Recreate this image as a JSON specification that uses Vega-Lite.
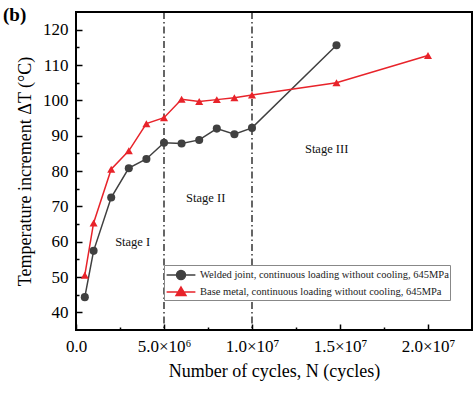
{
  "$schema": "https://vega.github.io/schema/vega-lite/v6.json",
  "width": 396,
  "height": 318,
  "autosize": {"type": "none"},
  "padding": {"left": 76, "top": 12, "right": 2, "bottom": 64},
  "background": "white",
  "title": {"text": "(b)", "anchor": "start", "frame": "group", "orient": "top", "offset": 0, "dx": -73, "dy": 29, "baseline": "alphabetic", "fontSize": 19, "fontWeight": "bold", "font": "Liberation Serif", "color": "black"},
  "config": {
    "font": "Liberation Serif",
    "view": {"stroke": "black", "strokeWidth": 2},
    "axis": {"domain": false, "grid": false, "labelFont": "Liberation Serif", "titleFont": "Liberation Serif", "labelColor": "black", "titleColor": "black", "tickColor": "black", "tickWidth": 1.5, "labelFontSize": 17, "titleFontSize": 18, "titleFontWeight": "normal"}
  },
  "datasets": {
    "curves": [
      {"series": "Welded joint, continuous loading without cooling, 645MPa", "marker": "circle", "N": 500000, "dT": 44.3},
      {"series": "Welded joint, continuous loading without cooling, 645MPa", "marker": "circle", "N": 1000000, "dT": 57.4},
      {"series": "Welded joint, continuous loading without cooling, 645MPa", "marker": "circle", "N": 2000000, "dT": 72.5},
      {"series": "Welded joint, continuous loading without cooling, 645MPa", "marker": "circle", "N": 3000000, "dT": 80.8},
      {"series": "Welded joint, continuous loading without cooling, 645MPa", "marker": "circle", "N": 4000000, "dT": 83.4},
      {"series": "Welded joint, continuous loading without cooling, 645MPa", "marker": "circle", "N": 5000000, "dT": 88.0},
      {"series": "Welded joint, continuous loading without cooling, 645MPa", "marker": "circle", "N": 6000000, "dT": 87.8},
      {"series": "Welded joint, continuous loading without cooling, 645MPa", "marker": "circle", "N": 7000000, "dT": 88.8},
      {"series": "Welded joint, continuous loading without cooling, 645MPa", "marker": "circle", "N": 8000000, "dT": 92.0},
      {"series": "Welded joint, continuous loading without cooling, 645MPa", "marker": "circle", "N": 9000000, "dT": 90.4},
      {"series": "Welded joint, continuous loading without cooling, 645MPa", "marker": "circle", "N": 10000000, "dT": 92.2},
      {"series": "Welded joint, continuous loading without cooling, 645MPa", "marker": "circle", "N": 14800000, "dT": 115.6},
      {"series": "Base metal, continuous loading without cooling, 645MPa", "marker": "triangle", "N": 500000, "dT": 50.5},
      {"series": "Base metal, continuous loading without cooling, 645MPa", "marker": "triangle", "N": 1000000, "dT": 65.3},
      {"series": "Base metal, continuous loading without cooling, 645MPa", "marker": "triangle", "N": 2000000, "dT": 80.5},
      {"series": "Base metal, continuous loading without cooling, 645MPa", "marker": "triangle", "N": 3000000, "dT": 85.7},
      {"series": "Base metal, continuous loading without cooling, 645MPa", "marker": "triangle", "N": 4000000, "dT": 93.4},
      {"series": "Base metal, continuous loading without cooling, 645MPa", "marker": "triangle", "N": 5000000, "dT": 95.1},
      {"series": "Base metal, continuous loading without cooling, 645MPa", "marker": "triangle", "N": 6000000, "dT": 100.3},
      {"series": "Base metal, continuous loading without cooling, 645MPa", "marker": "triangle", "N": 7000000, "dT": 99.7},
      {"series": "Base metal, continuous loading without cooling, 645MPa", "marker": "triangle", "N": 8000000, "dT": 100.2},
      {"series": "Base metal, continuous loading without cooling, 645MPa", "marker": "triangle", "N": 9000000, "dT": 100.7},
      {"series": "Base metal, continuous loading without cooling, 645MPa", "marker": "triangle", "N": 10000000, "dT": 101.5},
      {"series": "Base metal, continuous loading without cooling, 645MPa", "marker": "triangle", "N": 14800000, "dT": 105.0},
      {"series": "Base metal, continuous loading without cooling, 645MPa", "marker": "triangle", "N": 20000000, "dT": 112.7}
    ],
    "dividers": [{"N": 5000000}, {"N": 10000000}],
    "stages": [
      {"label": "Stage I", "N": 3220000, "dT": 60.0},
      {"label": "Stage II", "N": 7370000, "dT": 72.5},
      {"label": "Stage III", "N": 14240000, "dT": 86.2}
    ]
  },
  "encoding": {
    "x": {"field": "N", "type": "quantitative", "scale": {"domain": [0, 22500000], "nice": false, "zero": false},
      "axis": {"title": "Number of cycles, N (cycles)", "values": [0, 2500000, 5000000, 7500000, 10000000, 12500000, 15000000, 17500000, 20000000],
        "labelExpr": "datum.value === 0 ? '0.0' : datum.value === 5000000 ? '5.0×10⁶' : datum.value === 10000000 ? '1.0×10⁷' : datum.value === 15000000 ? '1.5×10⁷' : datum.value === 20000000 ? '2.0×10⁷' : ''",
        "tickSize": {"condition": {"test": "datum.value % 5000000 === 0", "value": -6}, "value": -3},
        "labelPadding": 14, "titlePadding": 8, "labelFlush": false}},
    "y": {"field": "dT", "type": "quantitative", "scale": {"domain": [35, 125], "nice": false, "zero": false},
      "axis": {"title": "Temperature increment ΔT (°C)", "values": [40, 45, 50, 55, 60, 65, 70, 75, 80, 85, 90, 95, 100, 105, 110, 115, 120],
        "labelExpr": "datum.value % 10 === 0 ? datum.label : ''",
        "tickSize": {"condition": {"test": "datum.value % 10 === 0", "value": -6}, "value": -3},
        "labelPadding": 14, "titlePadding": 8}}
  },
  "layer": [
    {"data": {"name": "dividers"}, "mark": {"type": "rule", "color": "black", "strokeWidth": 1.2, "strokeDash": [7, 3, 1.5, 3]},
      "encoding": {"x": {"field": "N", "type": "quantitative"}, "y": null}},
    {"data": {"name": "curves"},
      "encoding": {"color": {"field": "series", "type": "nominal",
        "scale": {"domain": ["Welded joint, continuous loading without cooling, 645MPa", "Base metal, continuous loading without cooling, 645MPa"], "range": ["#404040", "#e8232a"]},
        "legend": {"orient": "none", "legendX": 88, "legendY": 253, "title": null, "padding": 1, "strokeColor": "#888888", "fillColor": "white",
          "symbolSize": 256, "symbolOffset": 7, "labelOffset": 10, "rowPadding": 0, "labelLimit": 0, "labelFont": "Liberation Serif", "labelFontSize": 10.5, "labelColor": "#222222",
          "encode": {"symbols": {"update": {
            "shape": {"signal": "datum.value === 'Welded joint, continuous loading without cooling, 645MPa' ? 'M-1.8,0H1.8M-0.56,0A0.56,0.56,0,1,1,0.56,0A0.56,0.56,0,1,1,-0.56,0Z' : 'M-1.8,0H1.8M0,-0.62L0.62,0.45L-0.62,0.45Z'"},
            "stroke": {"scale": "color", "field": "value"},
            "fill": {"scale": "color", "field": "value"},
            "strokeWidth": {"value": 1.5},
            "opacity": {"value": 1}}}}}}},
      "layer": [
        {"mark": {"type": "line", "strokeWidth": 1.5}},
        {"mark": {"type": "point", "filled": true, "opacity": 1, "size": 65},
          "encoding": {
            "shape": {"field": "marker", "type": "nominal", "scale": {"domain": ["circle", "triangle"], "range": ["circle", "triangle-up"]}, "legend": null}}}
      ]},
    {"data": {"name": "stages"}, "mark": {"type": "text", "font": "Liberation Serif", "fontSize": 12.5, "color": "#111111"},
      "encoding": {"text": {"field": "label"}}}
  ]
}
